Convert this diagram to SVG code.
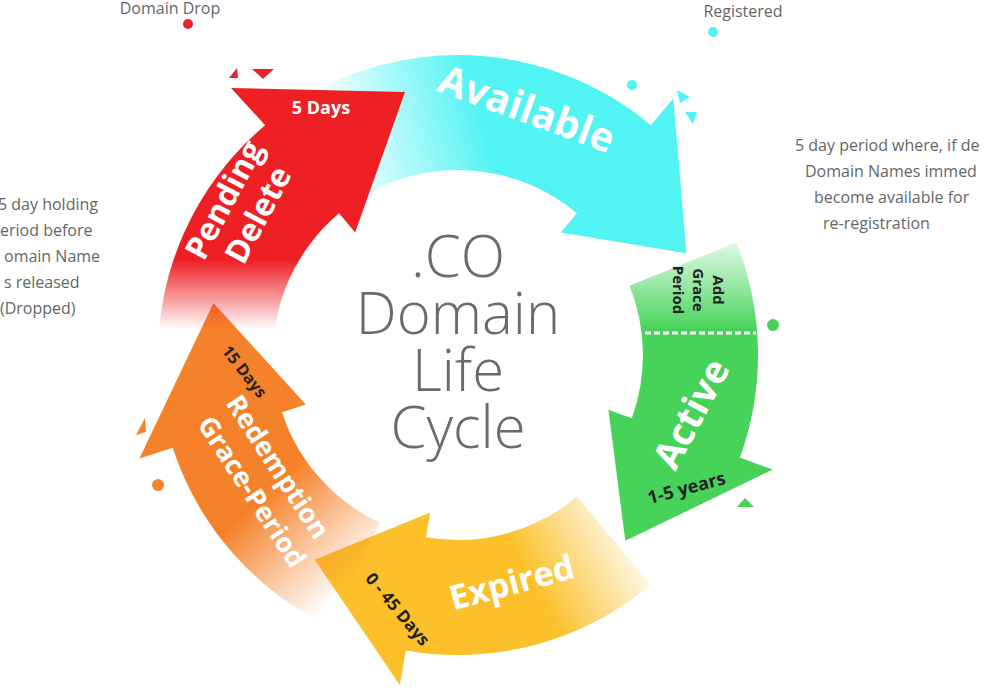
<svg xmlns="http://www.w3.org/2000/svg" width="999" height="699" viewBox="0 0 999 699">
<style>
.lbl{font-family:"Open Sans","DejaVu Sans",sans-serif;font-weight:700;fill:#fff;text-anchor:middle}
.dur{font-family:"Open Sans","DejaVu Sans",sans-serif;font-weight:700;fill:#222;text-anchor:middle}
.note{font-family:"Open Sans","DejaVu Sans",sans-serif;font-size:16px;fill:#666}
.title{font-family:"Open Sans","DejaVu Sans",sans-serif;font-weight:300;font-size:58px;fill:#6a6a6a;text-anchor:middle}
</style>
<defs>
<linearGradient id="gC" gradientUnits="userSpaceOnUse" x1="330" y1="150" x2="480" y2="110"><stop offset="0" stop-color="#52f3f3" stop-opacity="0"/><stop offset="1" stop-color="#52f3f3"/></linearGradient>
<linearGradient id="gG" gradientUnits="userSpaceOnUse" x1="0" y1="235" x2="0" y2="330"><stop offset="0" stop-color="#4cd964" stop-opacity="0.1"/><stop offset="1" stop-color="#47d35a"/></linearGradient>
<linearGradient id="gY" gradientUnits="userSpaceOnUse" x1="645" y1="545" x2="540" y2="600"><stop offset="0" stop-color="#fbc02a" stop-opacity="0"/><stop offset="1" stop-color="#fbc02a"/></linearGradient>
<linearGradient id="gO" gradientUnits="userSpaceOnUse" x1="345" y1="590" x2="260" y2="500"><stop offset="0" stop-color="#f5822a" stop-opacity="0"/><stop offset="1" stop-color="#f5822a"/></linearGradient>
<linearGradient id="gR" gradientUnits="userSpaceOnUse" x1="0" y1="330" x2="0" y2="260"><stop offset="0" stop-color="#ee2024" stop-opacity="0"/><stop offset="1" stop-color="#ee2024"/></linearGradient>
</defs>
<rect width="999" height="699" fill="#fff"/>

<g id="available">
<path d="M285.9 109.2 A300 300 0 0 1 650.8 125.2 L673.3 98.4 L686.4 253.3 L560.8 232.4 L576.9 213.3 A185 185 0 0 0 351.9 203.4 Z" fill="url(#gC)"/>
<text class="lbl" font-size="40" transform="translate(522,122) rotate(20)">Available</text>
</g>
<g id="active">
<path d="M736.2 242.6 A300 300 0 0 1 739.9 457.6 L772.8 469.6 L625.3 540.8 L608.4 409.7 L631.8 418.3 A185 185 0 0 0 629.5 285.7 Z" fill="url(#gG)"/>
<line x1="645" y1="333" x2="756" y2="333" stroke="#fff" stroke-width="3" stroke-dasharray="6,3"/>
<text class="dur" font-size="15" font-weight="600" transform="translate(713,290) rotate(90)">Add</text>
<text class="dur" font-size="15" font-weight="600" transform="translate(693,290) rotate(90)">Grace</text>
<text class="dur" font-size="15" font-weight="600" transform="translate(673,290) rotate(90)">Period</text>
<text class="lbl" font-size="38" transform="translate(703,420) rotate(-62)">Active</text>
<text class="dur" font-size="18" transform="translate(688,494) rotate(-15)">1-5 years</text>
</g>
<g id="expired">
<path d="M650.8 584.8 A300 300 0 0 1 405.9 650.4 L399.8 684.9 L314.6 559.8 L430.2 512.6 L425.9 537.2 A185 185 0 0 0 576.9 496.7 Z" fill="url(#gY)"/>
<text class="lbl" font-size="34" transform="translate(515,594) rotate(-15)">Expired</text>
<text class="dur" font-size="17" transform="translate(393,613) rotate(50)">0 - 45 Days</text>
</g>
<g id="redemption">
<path d="M331.2 626.9 A300 300 0 0 1 172.7 447.7 L139.4 458.5 L213.5 303 L305.8 404.4 L282 412.2 A185 185 0 0 0 379.8 522.7 Z" fill="url(#gO)"/>
<text class="dur" font-size="16" transform="translate(240,375) rotate(52)">15 Days</text>
<text class="lbl" font-size="27" transform="translate(270,472) rotate(57)">Redemption</text>
<text class="lbl" font-size="27" transform="translate(244,497) rotate(57)">Grace-Period</text>
</g>
<g id="pending">
<path d="M158.2 365.5 A300 300 0 0 1 265.2 125.2 L231 88 L405 92 L355.2 232.4 L339.1 213.3 A185 185 0 0 0 273.1 361.5 Z" fill="url(#gR)"/>
<text class="lbl" font-size="18" x="321" y="114">5 Days</text>
<text class="lbl" font-size="32" transform="translate(234,205) rotate(-62)">Pending</text>
<text class="lbl" font-size="32" transform="translate(268,220) rotate(-62)">Delete</text>
</g>

<g id="title">
<text class="title" x="458" y="277">.CO</text>
<text class="title" x="458" y="334">Domain</text>
<text class="title" x="458" y="391">Life</text>
<text class="title" x="458" y="448">Cycle</text>
</g>

<g id="notes">
<text class="note" x="170" y="14" text-anchor="middle">Domain Drop</text>
<text class="note" x="743" y="17" text-anchor="middle">Registered</text>
<text class="note" x="795" y="151">5 day period where, if de</text>
<text class="note" x="805" y="177">Domain Names immed</text>
<text class="note" x="814" y="203">become available for</text>
<text class="note" x="823" y="229">re-registration</text>
<text class="note" x="-2" y="210">5 day holding</text>
<text class="note" x="0" y="236">eriod before</text>
<text class="note" x="4" y="262">omain Name</text>
<text class="note" x="4" y="288">s released</text>
<text class="note" x="0" y="314">(Dropped)</text>
</g>

<g id="decor">
<circle cx="188" cy="24" r="5" fill="#e8232a"/>
<path d="M229 78 L237 68 L238 78 Z" fill="#e8232a"/>
<path d="M252 69 L274 69 L263 79 Z" fill="#e8232a"/>
<circle cx="713" cy="32" r="5" fill="#52f3f3"/>
<circle cx="632" cy="85" r="5" fill="#52f3f3"/>
<path d="M677 90 L690 97 L680 103 Z" fill="#52f3f3"/>
<path d="M685 112 L697 112 L693 124 Z" fill="#52f3f3"/>
<circle cx="773" cy="325" r="6" fill="#47d35a"/>
<path d="M737 507 L745 498 L754 507 Z" fill="#47d35a"/>
<path d="M136 435 L145 418 L146 432 Z" fill="#f5822a"/>
<circle cx="158" cy="485" r="6" fill="#f5822a"/>
</g>
</svg>
